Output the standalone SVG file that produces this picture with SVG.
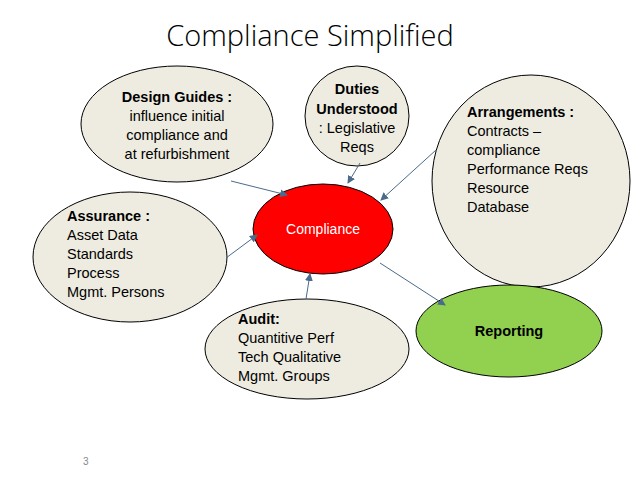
<svg xmlns="http://www.w3.org/2000/svg" width="638" height="479" viewBox="0 0 638 479">
<style>
.n{fill:#eeece1;stroke:#000;stroke-width:1}
text{font-family:"Liberation Sans",Arial,sans-serif;font-size:14.5px;fill:#000}
.b{font-weight:bold}
.c{text-anchor:middle}
.con line{stroke:#4a6b8a;stroke-width:1}
</style>
<defs><marker id="a" markerWidth="8" markerHeight="8" refX="7" refY="4" orient="auto" markerUnits="userSpaceOnUse"><path d="M0,0L8,4L0,8z" fill="#4a6b8a"/></marker></defs>
<rect width="638" height="479" fill="#fff"/>
<text x="310" y="46" class="c" style="font-family:'Open Sans',sans-serif;font-size:29px;font-weight:300">Compliance Simplified</text>
<g id="design"><ellipse class="n" cx="177" cy="124" rx="96" ry="58"/>
<text class="c" x="177" y="102"><tspan class="b">Design Guides :</tspan><tspan x="177" dy="19">influence initial</tspan><tspan x="177" dy="19">compliance and</tspan><tspan x="177" dy="19">at refurbishment</tspan></text></g>
<g id="duties"><ellipse class="n" cx="357" cy="116" rx="52" ry="50"/>
<text class="c b" x="357" y="94">Duties<tspan x="357" dy="20">Understood</tspan></text>
<text class="c" x="357" y="133">: Legislative<tspan x="357" dy="19">Reqs</tspan></text></g>
<g id="arrangements"><ellipse class="n" cx="531" cy="181" rx="99" ry="106"/>
<text x="467" y="117"><tspan class="b">Arrangements :</tspan><tspan x="467" dy="19">Contracts –</tspan><tspan x="467" dy="19">compliance</tspan><tspan x="467" dy="19">Performance Reqs</tspan><tspan x="467" dy="19">Resource</tspan><tspan x="467" dy="19">Database</tspan></text></g>
<g id="assurance"><ellipse class="n" cx="130" cy="257" rx="97" ry="65"/>
<text x="67" y="221"><tspan class="b">Assurance :</tspan><tspan x="67" dy="19">Asset Data</tspan><tspan x="67" dy="19">Standards</tspan><tspan x="67" dy="19">Process</tspan><tspan x="67" dy="19">Mgmt. Persons</tspan></text></g>
<g id="compliance"><ellipse cx="323" cy="229" rx="70" ry="45" fill="#ff0000" stroke="#000"/>
<text class="c" x="323" y="234" style="fill:#fff;font-size:14px">Compliance</text></g>
<g id="audit"><ellipse class="n" cx="307" cy="349" rx="102" ry="50"/>
<text x="238" y="324"><tspan class="b">Audit:</tspan><tspan x="238" dy="19">Quantitive Perf</tspan><tspan x="238" dy="19">Tech Qualitative</tspan><tspan x="238" dy="19">Mgmt. Groups</tspan></text></g>
<g id="reporting"><ellipse cx="509" cy="331" rx="93" ry="46" fill="#92d050" stroke="#000"/>
<text class="c b" x="509" y="336">Reporting</text></g>
<g class="con">
<line x1="231" y1="181" x2="287" y2="195" marker-end="url(#a)"/>
<line x1="360" y1="163" x2="348" y2="183" marker-end="url(#a)"/>
<line x1="436" y1="150" x2="381" y2="200" marker-end="url(#a)"/>
<line x1="226" y1="258" x2="257" y2="235" marker-end="url(#a)"/>
<line x1="306" y1="299" x2="310" y2="274" marker-end="url(#a)"/>
<line x1="380" y1="263" x2="445" y2="305" marker-end="url(#a)"/>
</g>
<text x="83" y="465" style="font-size:10px;fill:#888">3</text>
</svg>
